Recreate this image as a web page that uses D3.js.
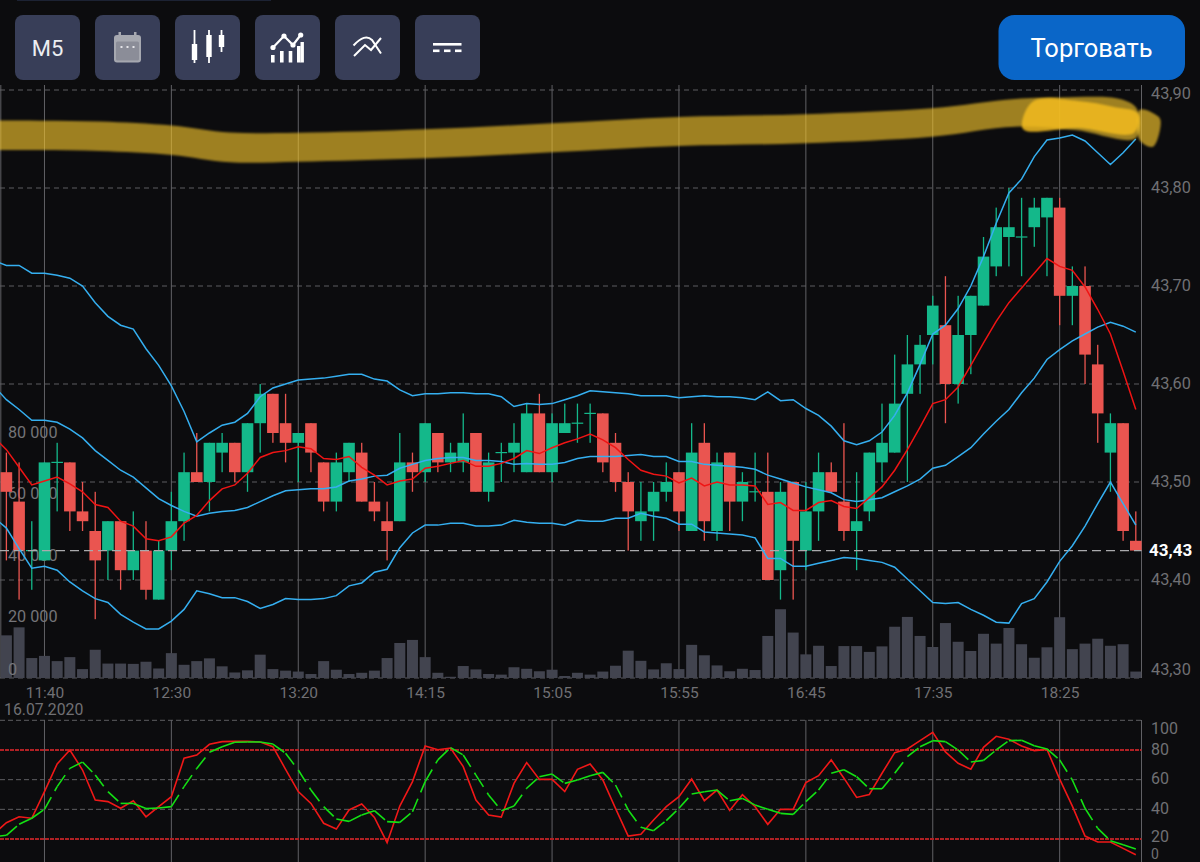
<!DOCTYPE html>
<html>
<head>
<meta charset="utf-8">
<script src="https://cdn.jsdelivr.net/npm/d3@7"></script>
<style>
	html, body { margin: 0; padding: 0; background: #0c0c0e; overflow: hidden; }
	text { font-family: Roboto, sans-serif; }
</style>
</head>
<body>
<div id="chart"></div>
<script>
var w = 1200,
	h = 862;

//candles, one per 5 minutes
var open = [43.51,43.48,43.43,43.42,43.52,43.52,43.47,43.45,43.43,43.46,
	43.41,43.43,43.38,43.43,43.46,43.51,43.50,43.53,43.54,43.51,
	43.56,43.59,43.56,43.54,43.56,43.52,43.48,43.51,43.53,43.48,
	43.46,43.46,43.52,43.51,43.55,43.52,43.52,43.55,43.49,43.53,
	43.53,43.51,43.57,43.51,43.55,43.56,43.57,43.57,43.54,43.50,
	43.46,43.47,43.49,43.51,43.45,43.54,43.45,43.53,43.48,43.49,
	43.49,43.41,43.50,43.43,43.47,43.51,43.48,43.45,43.47,43.52,
	43.53,43.59,43.62,43.65,43.66,43.60,43.65,43.68,43.72,43.75,
	43.75,43.76,43.77,43.78,43.69,43.70,43.62,43.53,43.56,43.44];
var close = [43.49,43.43,43.43,43.52,43.52,43.47,43.46,43.42,43.46,43.41,
	43.43,43.39,43.43,43.46,43.51,43.50,43.54,43.54,43.51,43.56,
	43.59,43.55,43.54,43.55,43.53,43.48,43.52,43.54,43.48,43.47,
	43.45,43.52,43.51,43.56,43.52,43.53,43.54,43.49,43.52,43.53,
	43.54,43.57,43.51,43.56,43.56,43.56,43.57,43.52,43.50,43.47,
	43.47,43.49,43.50,43.47,43.53,43.46,43.52,43.48,43.50,43.49,
	43.40,43.49,43.44,43.47,43.51,43.49,43.45,43.46,43.53,43.54,
	43.58,43.62,43.64,43.68,43.60,43.65,43.69,43.73,43.76,43.76,
	43.75,43.78,43.79,43.69,43.70,43.63,43.57,43.56,43.45,43.43];
var high = [43.53,43.52,43.46,43.52,43.54,43.52,43.50,43.49,43.46,43.46,
	43.47,43.46,43.44,43.49,43.53,43.55,43.54,43.55,43.54,43.56,
	43.60,43.59,43.59,43.55,43.56,43.52,43.53,43.54,43.54,43.50,
	43.48,43.55,43.53,43.56,43.55,43.54,43.57,43.55,43.53,43.54,
	43.56,43.58,43.59,43.57,43.58,43.58,43.58,43.57,43.55,43.51,
	43.50,43.50,43.52,43.51,43.56,43.56,43.53,43.53,43.51,43.53,
	43.53,43.50,43.50,43.50,43.53,43.52,43.56,43.51,43.53,43.58,
	43.63,43.65,43.65,43.69,43.71,43.69,43.69,43.75,43.78,43.80,
	43.79,43.79,43.79,43.79,43.72,43.72,43.64,43.57,43.56,43.47];
var low = [43.42,43.38,43.39,43.42,43.47,43.45,43.45,43.36,43.40,43.39,
	43.40,43.38,43.38,43.41,43.44,43.50,43.47,43.51,43.50,43.49,
	43.53,43.54,43.52,43.50,43.51,43.47,43.47,43.50,43.48,43.46,
	43.42,43.46,43.49,43.50,43.51,43.51,43.51,43.49,43.48,43.50,
	43.51,43.51,43.51,43.50,43.55,43.54,43.54,43.51,43.49,43.43,
	43.44,43.44,43.48,43.45,43.45,43.44,43.44,43.45,43.46,43.48,
	43.40,43.38,43.38,43.41,43.44,43.49,43.44,43.41,43.46,43.50,
	43.53,43.50,43.59,43.62,43.56,43.58,43.61,43.68,43.71,43.72,
	43.71,43.74,43.71,43.66,43.66,43.60,43.54,43.49,43.44,43.43];

var volume = [13900,16500,6500,7200,5500,6800,2900,9200,4700,4700,
	4600,5300,3100,8100,4300,5500,6400,3800,1800,2500,
	7600,2900,2400,2100,1300,5500,2700,1300,1700,2400,
	6500,11400,12400,6800,1700,400,3900,2800,1300,1100,
	3500,3000,2200,2700,650,1700,1100,2100,4000,8900,
	5600,2800,4800,2900,10800,7400,4100,2200,3000,2600,
	13700,22400,14800,7700,10500,3900,10400,10400,8500,10300,
	16700,19900,13700,10100,17900,11800,8800,14400,11200,16300,
	11000,6600,10000,19800,9400,11200,12800,10500,11000,2100];

//indicator lines, first value sits one candle left of the screen
var bandUpper = [43.726,43.721,43.721,43.713,43.713,43.711,43.708,43.700,43.683,43.669,43.660,
	43.656,43.636,43.619,43.598,43.572,43.541,43.550,43.558,43.561,43.570,
	43.587,43.596,43.600,43.604,43.605,43.606,43.608,43.610,43.610,43.605,
	43.603,43.594,43.588,43.590,43.590,43.591,43.591,43.590,43.590,43.587,
	43.577,43.580,43.579,43.580,43.584,43.588,43.593,43.592,43.591,43.590,
	43.588,43.588,43.588,43.586,43.587,43.588,43.587,43.587,43.586,43.584,
	43.592,43.583,43.584,43.575,43.568,43.557,43.542,43.538,43.542,43.551,
	43.568,43.591,43.620,43.651,43.660,43.677,43.700,43.730,43.764,43.795,
	43.809,43.832,43.849,43.851,43.854,43.848,43.836,43.824,43.836,43.850];
var bandMiddle = [43.598,43.584,43.574,43.563,43.563,43.561,43.554,43.545,43.532,43.522,43.512,
	43.505,43.494,43.483,43.476,43.470,43.465,43.468,43.470,43.471,43.474,
	43.480,43.486,43.491,43.492,43.493,43.493,43.495,43.501,43.503,43.506,
	43.507,43.514,43.518,43.522,43.524,43.525,43.525,43.522,43.522,43.521,
	43.518,43.519,43.518,43.518,43.520,43.524,43.526,43.526,43.526,43.527,
	43.528,43.526,43.526,43.521,43.521,43.518,43.517,43.516,43.515,43.513,
	43.507,43.503,43.499,43.495,43.492,43.489,43.482,43.480,43.482,43.484,
	43.490,43.496,43.503,43.514,43.517,43.526,43.535,43.549,43.562,43.574,
	43.591,43.606,43.625,43.635,43.644,43.651,43.658,43.663,43.659,43.653];
var bandLower = [43.464,43.453,43.432,43.412,43.414,43.410,43.398,43.389,43.381,43.377,43.365,
	43.357,43.350,43.350,43.358,43.370,43.389,43.386,43.382,43.382,43.378,
	43.371,43.375,43.381,43.380,43.380,43.381,43.384,43.394,43.397,43.408,
	43.411,43.433,43.448,43.456,43.456,43.458,43.458,43.455,43.455,43.456,
	43.461,43.459,43.458,43.458,43.456,43.461,43.460,43.460,43.463,43.463,
	43.468,43.465,43.463,43.457,43.457,43.449,43.448,43.447,43.446,43.443,
	43.422,43.422,43.414,43.414,43.417,43.420,43.423,43.422,43.420,43.418,
	43.413,43.401,43.389,43.377,43.376,43.377,43.370,43.364,43.357,43.356,
	43.376,43.381,43.398,43.419,43.435,43.455,43.478,43.500,43.478,43.456];
var movingAvg = [43.546,43.533,43.515,43.497,43.501,43.505,43.498,43.490,43.477,43.474,43.460,
	43.455,43.442,43.440,43.444,43.458,43.466,43.481,43.493,43.497,43.509,
	43.525,43.530,43.532,43.536,43.534,43.524,43.523,43.526,43.515,43.507,
	43.497,43.501,43.503,43.514,43.516,43.519,43.522,43.516,43.516,43.519,
	43.524,43.532,43.529,43.535,43.540,43.544,43.549,43.543,43.535,43.523,
	43.512,43.508,43.506,43.499,43.504,43.496,43.500,43.497,43.497,43.496,
	43.477,43.479,43.471,43.471,43.479,43.481,43.475,43.473,43.484,43.495,
	43.512,43.533,43.556,43.580,43.584,43.597,43.619,43.642,43.664,43.683,
	43.698,43.713,43.728,43.720,43.716,43.699,43.676,43.651,43.613,43.574];

var stochK = [23.4,31,35,34,52,70.6,80,66.5,46.3,45.2,40.7,
	45.8,35,41.8,48.5,74.4,76.6,83.8,85.6,85.8,85.8,
	85.4,82.2,67,52,44,30.6,26.7,39.6,43.6,34.6,
	17.5,42.2,58.7,82.7,80.2,81.3,68.8,46.3,36.2,34.8,
	57.5,71.5,60.2,60.2,52,67,70.6,59.8,40.7,22,
	23.2,32.8,41.8,48.5,60.4,45.8,53,39.3,49.9,41.8,
	29.9,40,40,58,62.7,73.3,61,48,50,64.3,
	78.2,80.7,86.3,91.9,78.7,71,67,81.8,89.2,87.2,
	82.7,79.6,80.4,60.4,42.2,22,18,18,13.7,9.4];
var stochD = [21.6,22.5,30,34,40,55.3,67.6,71.9,63.1,51.9,44,
	44,40.5,40.9,41.8,55.3,67.6,78.4,82.2,85.2,85.4,
	85.4,84,77.8,66.5,53,41.8,33.5,31.9,36.2,39.1,
	31.7,31.2,38.4,58.7,73.3,81.6,76.6,63.1,49.7,39.1,
	42.2,54.2,62,63.8,57.5,59.8,62.7,64.9,56.4,39.6,
	27.9,25.6,32.4,40.7,50.3,51.9,53,45.8,47.4,42.9,
	40,37.3,36.6,45.2,53,64.3,66.7,62,53.9,53.9,
	64.3,75.5,82.2,86.3,85.6,80,71.9,73,80,86.3,
	86.5,82.9,80.7,73.3,59.8,40.7,27.2,18.9,16.2,13.3];

//ticks and labels
var timeIndex = [3,13,23,33,43,53,63,73,83];
var timeLabels = ["11:40","12:30","13:20","14:15","15:05","15:55","16:45","17:35","18:25"];
var priceTicks = [43.90,43.80,43.70,43.60,43.50,43.40,43.30];
var volumeTicks = [0,20000,40000,60000,80000];
var stochTicks = [100,80,60,40,20,0];
var stochGuides = [100,60,40];
var stochLimits = [80,20];
var lastPrice = 43.43;
var dateLabel = "16.07.2020";
var buttonLabels = ["M5","","","","",""];
var tradeLabel = "Торговать";

var bg = "#0c0c0e",
	up = "#14b88a",
	down = "#ea5550",
	blue = "#35aff0",
	gridColor = "#616165",
	labelColor = "#707074",
	axisX = 1141.5;

var svg = d3.select("#chart").append("svg")
	.attr("width", w)
	.attr("height", h)
	.style("display", "block");

svg.append("rect").attr("width", w).attr("height", h).attr("fill", bg);

////////////////////////////////////////////
///////////////// Scales ///////////////////
////////////////////////////////////////////

var x = d3.scaleLinear().domain([0, 89]).range([6.4, 1135.8]);
var y = d3.scaleLinear().domain([43.30, 43.90]).range([678, 90]);
var yVol = d3.scaleLinear().domain([0, 80000]).range([678, 432.4]);
var yStoch = d3.scaleLinear().domain([0, 100]).range([868.7, 720.3]);

////////////////////////////////////////////
////////////////// Grid ////////////////////
////////////////////////////////////////////

var grid = svg.append("g");

grid.selectAll(".hgrid")
	.data(priceTicks)
	.enter().append("line")
	.attr("x1", 0).attr("x2", axisX)
	.attr("y1", d => y(d)).attr("y2", d => y(d))
	.attr("stroke", "#5c5c60")
	.attr("stroke-dasharray", "5 4");

grid.selectAll(".sgrid")
	.data(stochGuides)
	.enter().append("line")
	.attr("x1", 0).attr("x2", axisX)
	.attr("y1", d => yStoch(d)).attr("y2", d => yStoch(d))
	.attr("stroke", "#5e5e62")
	.attr("stroke-dasharray", "5 3");

grid.selectAll(".vmain")
	.data(timeIndex.concat([-0.44]))
	.enter().append("line")
	.attr("x1", d => x(d)).attr("x2", d => x(d))
	.attr("y1", 85).attr("y2", 678)
	.attr("stroke", gridColor);

grid.selectAll(".vstoch")
	.data(timeIndex)
	.enter().append("line")
	.attr("x1", d => x(d)).attr("x2", d => x(d))
	.attr("y1", 720).attr("y2", h)
	.attr("stroke", gridColor);

grid.selectAll(".vaxis")
	.data([[85, 678], [720, h]])
	.enter().append("line")
	.attr("x1", axisX).attr("x2", axisX)
	.attr("y1", d => d[0]).attr("y2", d => d[1])
	.attr("stroke", gridColor);

////////////////////////////////////////////
//////////////// Volume ////////////////////
////////////////////////////////////////////

svg.append("g").selectAll("rect")
	.data(volume)
	.enter().append("rect")
	.attr("x", (d, i) => x(i) - 5.5)
	.attr("width", 11)
	.attr("y", d => yVol(d))
	.attr("height", d => yVol(0) - yVol(d))
	.attr("fill", "#42444f");

var volAxis = svg.append("g")
	.attr("transform", "translate(8,0)")
	.call(d3.axisRight(yVol).tickValues(volumeTicks).tickSize(0).tickPadding(0)
		.tickFormat(d => d3.format(",")(d).replace(",", " ")));
volAxis.select(".domain").remove();
volAxis.selectAll("text")
	.attr("font-size", 16.2)
	.attr("font-family", "Roboto, sans-serif")
	.attr("fill", "#747478")
	.attr("dy", d => d == 0 ? "-0.24em" : "0.32em");

////////////////////////////////////////////
//////////////// Candles ///////////////////
////////////////////////////////////////////

var candle = svg.append("g").selectAll("g")
	.data(open)
	.enter().append("g")
	.attr("fill", (d, i) => close[i] >= d ? up : down)
	.attr("stroke", "none");

candle.append("rect")
	.attr("x", (d, i) => x(i) - 0.65)
	.attr("width", 1.3)
	.attr("y", (d, i) => y(high[i]))
	.attr("height", (d, i) => y(low[i]) - y(high[i]));

candle.append("rect")
	.attr("x", (d, i) => x(i) - 5.8)
	.attr("width", 11.6)
	.attr("y", (d, i) => y(Math.max(d, close[i])) - (d == close[i] ? 0.6 : 0))
	.attr("height", (d, i) => Math.max(1.2, Math.abs(y(d) - y(close[i]))));

//last price line
svg.append("line")
	.attr("x1", 0).attr("x2", axisX)
	.attr("y1", y(lastPrice)).attr("y2", y(lastPrice))
	.attr("stroke", "#aaaaad")
	.attr("stroke-width", 1.1)
	.attr("stroke-dasharray", "9 5");

////////////////////////////////////////////
/////////////// Indicators /////////////////
////////////////////////////////////////////

var priceLine = d3.line().x((d, i) => x(i - 1)).y(d => y(d));

svg.append("g").selectAll("path")
	.data([bandUpper, bandMiddle, bandLower])
	.enter().append("path")
	.attr("d", priceLine)
	.attr("fill", "none")
	.attr("stroke", blue)
	.attr("stroke-width", 1.5);

svg.append("path")
	.attr("d", priceLine(movingAvg))
	.attr("fill", "none")
	.attr("stroke", "#f01414")
	.attr("stroke-width", 1.5);

//stochastic panel
svg.append("g").selectAll("line")
	.data(stochLimits)
	.enter().append("line")
	.attr("x1", 0).attr("x2", axisX)
	.attr("y1", d => yStoch(d)).attr("y2", d => yStoch(d))
	.attr("stroke", "#b02024")
	.attr("stroke-width", 1.8)
	.attr("stroke-dasharray", "4 1");

var stochLine = d3.line().x((d, i) => x(i - 1)).y(d => yStoch(d));

svg.append("path")
	.attr("d", stochLine(stochK))
	.attr("fill", "none")
	.attr("stroke", "#f01818")
	.attr("stroke-width", 1.6);

//the app restarts the dash at every point, so flat stretches look solid
svg.append("g").selectAll("line")
	.data(d3.pairs(stochD))
	.enter().append("line")
	.attr("x1", (d, i) => x(i - 1)).attr("x2", (d, i) => x(i))
	.attr("y1", d => yStoch(d[0])).attr("y2", d => yStoch(d[1]))
	.attr("stroke", "#14e014")
	.attr("stroke-width", 1.6)
	.attr("stroke-dasharray", "14 7");

////////////////////////////////////////////
////////////////// Axes ////////////////////
////////////////////////////////////////////

var priceAxis = svg.append("g")
	.attr("transform", "translate(1151,0)")
	.call(d3.axisRight(y).tickValues(priceTicks).tickSize(0).tickPadding(0)
		.tickFormat(d => d.toFixed(2).replace(".", ",")));
priceAxis.select(".domain").remove();
priceAxis.selectAll("text")
	.attr("font-size", 16.3)
	.attr("font-family", "Roboto, sans-serif")
	.attr("fill", labelColor)
	.attr("dy", d => d == 43.90 ? "0.52em" : d == 43.30 ? "-0.2em" : "0.26em");

//the panel bottom is off screen, 0 and 20 get squeezed to fit
var stochAxis = svg.append("g")
	.attr("transform", "translate(1151,0)")
	.call(d3.axisRight(yStoch).tickValues(stochTicks).tickSize(0).tickPadding(0));
stochAxis.select(".domain").remove();
stochAxis.selectAll("text")
	.attr("font-size", d => d == 0 ? 14 : 16)
	.attr("font-family", "Roboto, sans-serif")
	.attr("fill", labelColor)
	.attr("dy", d => d == 100 ? "0.85em" : d == 0 ? "-10.4px" : d == 20 ? "2.5px" : "0.26em");

var timeAxis = svg.append("g")
	.attr("transform", "translate(0,698)")
	.call(d3.axisBottom(x).tickValues(timeIndex).tickSize(0).tickPadding(0)
		.tickFormat((d, i) => timeLabels[i]));
timeAxis.select(".domain").remove();
timeAxis.selectAll("text")
	.attr("font-size", 15.5)
	.attr("font-family", "Roboto, sans-serif")
	.attr("fill", labelColor)
	.attr("y", 0)
	.attr("dy", 0);

svg.append("text")
	.attr("x", 4).attr("y", 715)
	.attr("font-size", 15.8)
	.attr("fill", labelColor)
	.text(dateLabel);

svg.append("text")
	.attr("x", 1149).attr("y", y(lastPrice) + 5)
	.attr("font-size", 17)
	.attr("font-weight", 700)
	.attr("fill", "#ffffff")
	.text(lastPrice.toFixed(2).replace(".", ","));

////////////////////////////////////////////
/////////////// Highlighter ////////////////
////////////////////////////////////////////

//felt pen scribble over the chart
var scribble = svg.append("g");
var pen = d3.line().curve(d3.curveCatmullRomClosed.alpha(0.5));

scribble.append("path")
	.attr("d", pen([[-60,120.5],[-20,120.5],[40,120.7],[100,121.5],[172,125.5],[230,132.5],[298,132.7],[425,129.3],[552,123.3],[679,117],[805,114.3],[932,108.3],[1015,99],[1060,97.5],[1120,99],[1137,109],[1136,138],[1075,130],[1015,126.7],[932,136.7],[805,143.3],[679,146],[552,152.3],[425,158.3],[298,161.7],[230,162.3],[172,155],[100,151],[40,150],[-20,150],[-60,150]]))
	.attr("fill", "#f4c42c")
	.attr("fill-opacity", 0.63)
	.style("filter", "blur(0.8px)");

scribble.append("path")
	.attr("d", pen([[1139.6,110],[1155,114.3],[1160.5,120],[1153,146.7],[1139.6,140]]))
	.attr("fill", "#f4c42c")
	.attr("fill-opacity", 0.66)
	.style("filter", "blur(0.8px)");

scribble.append("path")
	.attr("d", pen([[1032.5,101.7],[1078,101],[1113,106.7],[1137.7,113.3],[1134,133],[1078,128],[1023,129]]))
	.attr("fill", "#f2bb1e")
	.attr("fill-opacity", 0.85)
	.style("filter", "blur(0.8px)");

////////////////////////////////////////////
///////////////// Toolbar //////////////////
////////////////////////////////////////////

var bar = svg.append("g");

bar.append("rect").attr("x", 17).attr("y", -1).attr("width", 254).attr("height", 2).attr("fill", "#1c2233");

var btn = bar.selectAll(".btn")
	.data(buttonLabels)
	.enter().append("g")
	.attr("transform", (d, i) => "translate(" + (15 + i * 80) + ",15)");

btn.append("rect")
	.attr("width", 65).attr("height", 65).attr("rx", 8)
	.attr("fill", "#383e58");

btn.append("text")
	.attr("x", 32.5).attr("y", 41)
	.attr("text-anchor", "middle")
	.attr("font-size", 22)
	.attr("font-family", "'Liberation Sans', sans-serif")
	.attr("fill", "#eceef2")
	.text(d => d);

//calendar
bar.append("rect").attr("x", 114).attr("y", 35).attr("width", 27).attr("height", 27.5).attr("rx", 3).attr("fill", "#a6a8b0");
bar.append("rect").attr("x", 118.5).attr("y", 32).attr("width", 2.5).attr("height", 5).attr("fill", "#a6a8b0");
bar.append("rect").attr("x", 134).attr("y", 32).attr("width", 2.5).attr("height", 5).attr("fill", "#a6a8b0");
bar.append("rect").attr("x", 116).attr("y", 41.5).attr("width", 23).attr("height", 19).attr("rx", 1.5).attr("fill", "#8b8d98");
[121.5, 127.5, 133.5].forEach(cx => {
	bar.append("rect").attr("x", cx - 1).attr("y", 46).attr("width", 2).attr("height", 2).attr("fill", "#e4e4e8");
});

//candle icon
[[194.5, 30, 63, 44, 60], [209, 30, 63, 35, 57], [221.5, 30, 52, 35, 47]].forEach(c => {
	bar.append("rect").attr("x", c[0] - 0.9).attr("y", c[1]).attr("width", 1.8).attr("height", c[2] - c[1]).attr("fill", "#fff");
	bar.append("rect").attr("x", c[0] - 2.7).attr("y", c[3]).attr("width", 5.4).attr("height", c[4] - c[3]).attr("fill", "#fff");
});

//indicator icon
[[271, 55], [280, 51], [288.7, 51], [297, 46]].forEach(c => {
	bar.append("rect").attr("x", c[0]).attr("y", c[1]).attr("width", 3.6).attr("height", 62.5 - c[1]).attr("fill", "#fff");
});
bar.append("rect").attr("x", 300.5).attr("y", 42).attr("width", 3.4).attr("height", 20.5).attr("fill", "#fff");
bar.append("path")
	.attr("d", "M273 47.5L284 36L293 45L300.7 35")
	.attr("fill", "none").attr("stroke", "#fff").attr("stroke-width", 2.2);
[[273, 47.5], [284, 36], [293, 45], [300.7, 35]].forEach(c => {
	bar.append("circle").attr("cx", c[0]).attr("cy", c[1]).attr("r", 2.6).attr("fill", "#fff");
});

//crossing lines icon
bar.append("path")
	.attr("d", "M353.5 45.5Q365 33 372 40L381 53.5")
	.attr("fill", "none").attr("stroke", "#fff").attr("stroke-width", 2);
bar.append("path")
	.attr("d", "M354 56L365 45L371 50L381 38")
	.attr("fill", "none").attr("stroke", "#fff").attr("stroke-width", 2);

//lines icon
bar.append("rect").attr("x", 433).attr("y", 43).attr("width", 28.5).attr("height", 2.6).attr("fill", "#fff");
[433, 444, 455].forEach(bx => {
	bar.append("rect").attr("x", bx).attr("y", 49.5).attr("width", 6.5).attr("height", 2.6).attr("fill", "#fff");
});

//trade button
bar.append("rect")
	.attr("x", 998.5).attr("y", 15)
	.attr("width", 186.5).attr("height", 65).attr("rx", 16)
	.attr("fill", "#0a66c8");
bar.append("text")
	.attr("x", 1091.5).attr("y", 56.5)
	.attr("text-anchor", "middle")
	.attr("font-size", 25.5)
	.attr("fill", "#ffffff")
	.text(tradeLabel);
</script>
</body>
</html>
